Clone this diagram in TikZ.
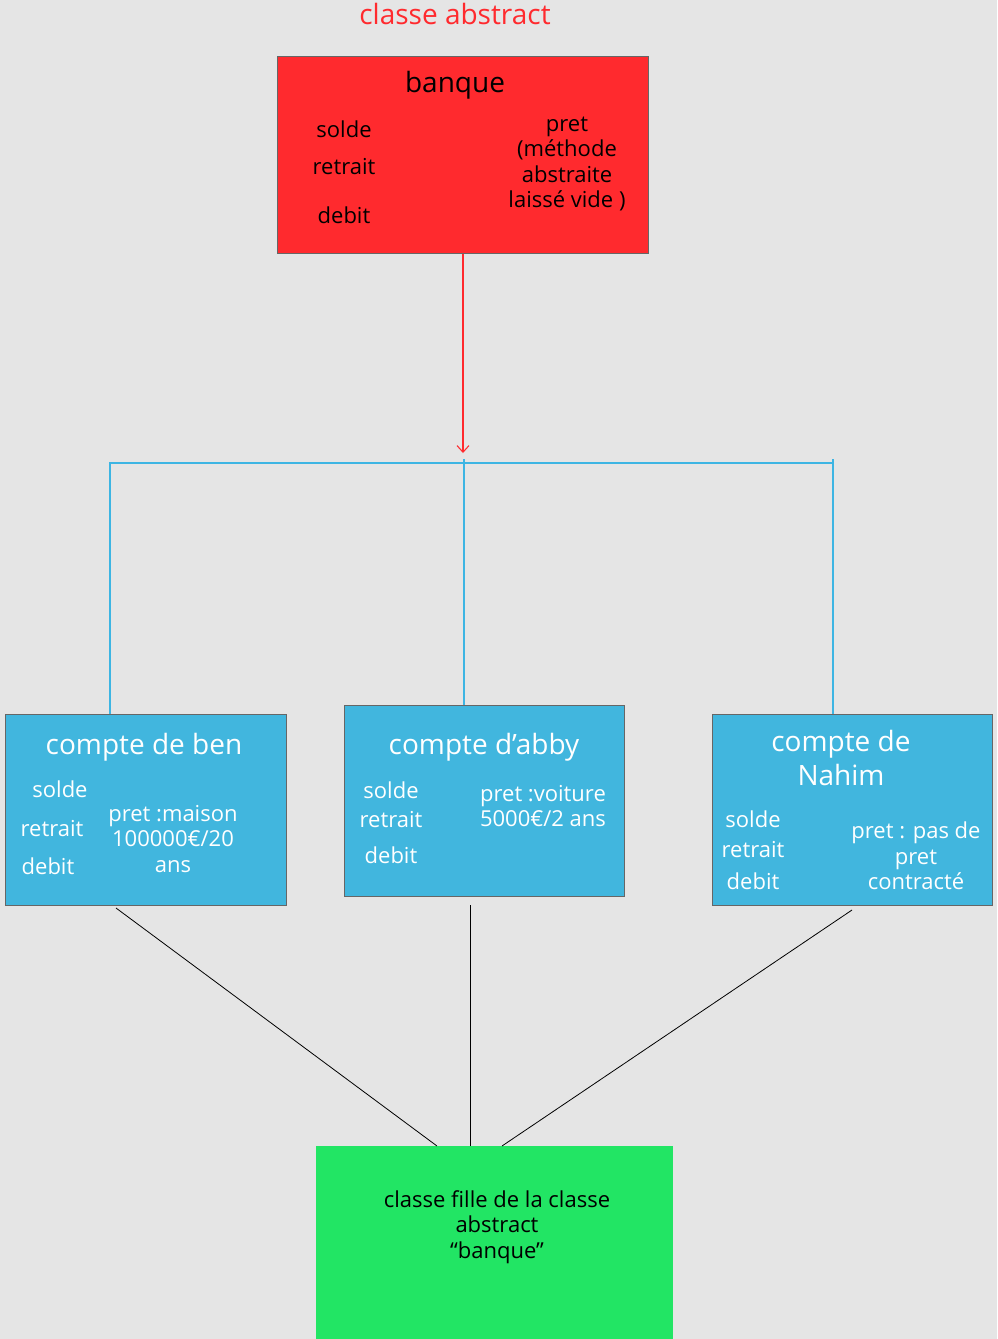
\documentclass[tikz,border=0pt]{standalone}
\usepackage{fontspec}
\setmainfont{Open Sans}
\usetikzlibrary{arrows.meta}
\definecolor{bg}{HTML}{E5E5E5}
\definecolor{rbox}{HTML}{FF2A2E}
\definecolor{bbox}{HTML}{41B6DE}
\definecolor{gbox}{HTML}{22E564}
\definecolor{bline}{HTML}{3DB5E3}
\begin{document}
\begin{tikzpicture}[x=0.75pt,y=-0.75pt,
  box/.style={draw=black!60,line width=0.6pt,anchor=north west,inner sep=0},
  t/.style={font=\fontsize{16.5}{19}\selectfont,align=center,inner sep=0},
  tt/.style={font=\fontsize{21}{26}\selectfont,align=center,inner sep=0,text=white},
  w/.style={t,text=white}]
\fill[bg] (0,0) rectangle (997,1339);
\useasboundingbox (0,0) rectangle (997,1339);
\node[text=rbox,font=\fontsize{21}{25}\selectfont,inner sep=0] (lab) at (455,14) {classe abstract};
\node[box,fill=rbox,minimum width=371*0.75pt,minimum height=197*0.75pt] (bq) at (277,56) {};
\node[font=\fontsize{21}{25}\selectfont,inner sep=0] at (455,85) {banque};
\node[t] at (344,129) {solde};
\node[t] at (344,167) {retrait};
\node[t] at (344,215) {debit};
\node[t] at (567,164) {pret\\(méthode\\abstraite\\laissé vide )};
\node[box,fill=bbox,minimum width=281*0.75pt,minimum height=191*0.75pt] (ben) at (5,714) {};
\node[box,fill=bbox,minimum width=280*0.75pt,minimum height=191*0.75pt] (abby) at (344,705) {};
\node[box,fill=bbox,minimum width=280*0.75pt,minimum height=191*0.75pt] (nah) at (712,714) {};
\node[box,fill=gbox,draw=none,minimum width=357*0.75pt,minimum height=193*0.75pt] (fille) at (316,1146) {};
\node[tt] at (144,747) {compte de ben};
\node[w] at (60,789) {solde};
\node[w] at (52,829) {retrait};
\node[w] at (48,866) {debit};
\node[w] at (173,839) {pret :maison\\100000€/20\\ans};
\node[tt] at (484,747) {compte d’abby};
\node[w] at (391,790) {solde};
\node[w] at (391,820) {retrait};
\node[w] at (391,855) {debit};
\node[w] at (543,806) {pret :voiture\\5000€/2 ans};
\node[tt] at (841,758) {compte de\\Nahim};
\node[w] at (753,819) {solde};
\node[w] at (753,850) {retrait};
\node[w] at (753,881) {debit};
\node[w] at (916,856) {pret : pas de\\pret\\contracté};
\node[t] at (497,1227) {classe fille de la classe\\abstract\\“banque”};
\coordinate (arr) at (463,453);
\coordinate (hl) at (110,463);
\coordinate (hr) at (833,463);
\draw[rbox,line width=0.8pt,-{Straight Barb[length=5pt,width=9pt]}] (bq.south -| arr) -- (arr);
\draw[bline,line width=1.8pt] (ben.north -| hl) -- (hl) -- (hr |- hl);
\draw[bline,line width=1.8pt] (833,459) -- (nah.north -| hr);
\draw[bline,line width=1.8pt] (464,459) -- (abby.north -| 464,0);
\draw[black,line width=0.6pt] (116,908) -- (437,1146);
\draw[black,line width=0.6pt] (470,905) -- (470,1146);
\draw[black,line width=0.6pt] (852,910) -- (502,1146);
\end{tikzpicture}
\end{document}
